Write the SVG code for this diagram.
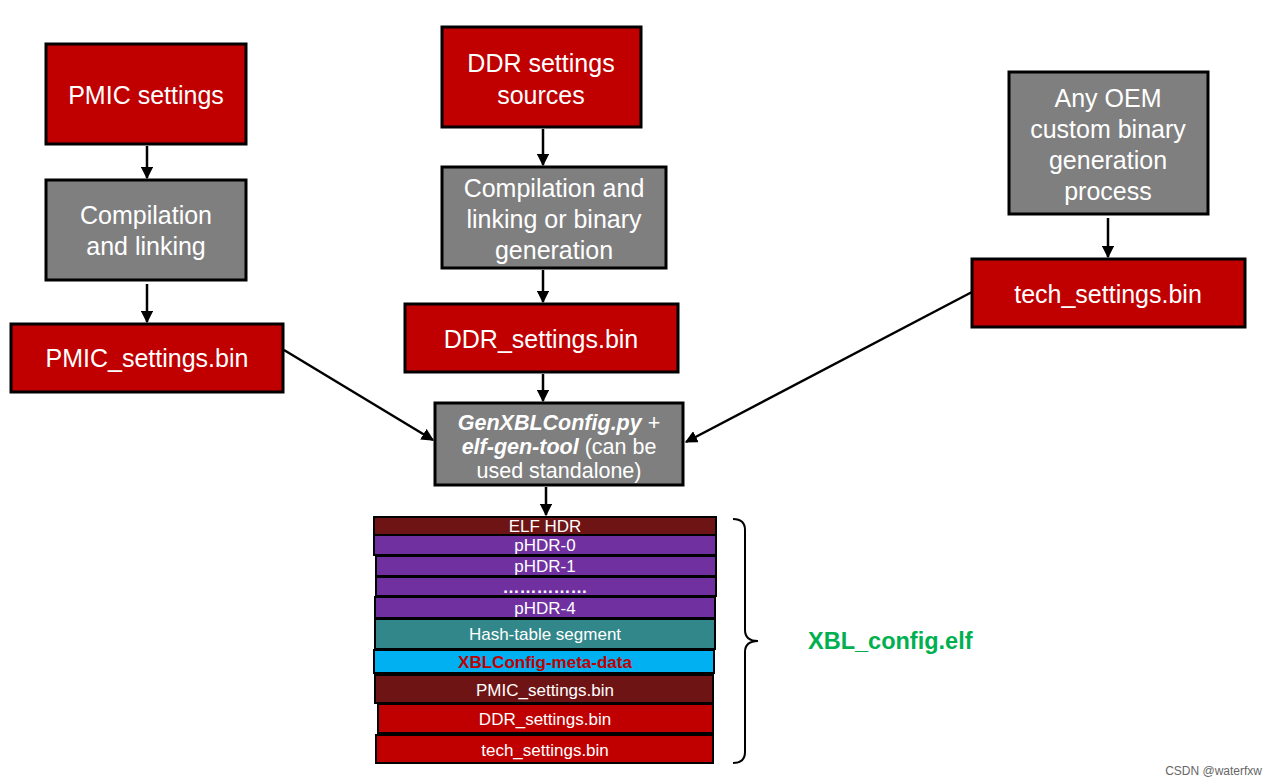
<svg xmlns="http://www.w3.org/2000/svg" width="1268" height="784" viewBox="0 0 1268 784">
<defs>
<marker id="ah" viewBox="0 0 10 10" refX="9" refY="5" markerWidth="5" markerHeight="5" orient="auto"><path d="M0,0L10,5L0,10z" fill="#000"/></marker>
<style>
.r{fill:#c00000;stroke:#000;stroke-width:3}
.g{fill:#7f7f7f;stroke:#000;stroke-width:3}
.t{font-family:"Liberation Sans",Arial,sans-serif;fill:#fff;text-anchor:middle;font-size:25px}
.s{font-family:"Liberation Sans",Arial,sans-serif;fill:#fff;text-anchor:middle;font-size:17px}
.row{stroke:#000;stroke-width:2}
.c{stroke:#000;stroke-width:2.5;fill:none;marker-end:url(#ah)}
</style>
</defs>
<rect width="1268" height="784" fill="#fff"/>
<g id="pmic"><rect class="r" x="46" y="44" width="200" height="100"/><text class="t" x="146" y="104">PMIC settings</text></g>
<g id="comp1"><rect class="g" x="46" y="180" width="200" height="100"/><text class="t" x="146" y="224">Compilation</text><text class="t" x="146" y="255">and linking</text></g>
<g id="pmicbin"><rect class="r" x="11" y="324" width="272" height="68"/><text class="t" x="147" y="367">PMIC_settings.bin</text></g>
<g id="ddr"><rect class="r" x="442" y="27" width="199" height="100"/><text class="t" x="541" y="72">DDR settings</text><text class="t" x="541" y="104">sources</text></g>
<g id="comp2"><rect class="g" x="442" y="167" width="224" height="101"/><text class="t" x="554" y="197">Compilation and</text><text class="t" x="554" y="228">linking or binary</text><text class="t" x="554" y="259">generation</text></g>
<g id="ddrbin"><rect class="r" x="405" y="304" width="273" height="68"/><text class="t" x="541" y="348">DDR_settings.bin</text></g>
<g id="oem"><rect class="g" x="1009" y="72" width="199" height="142"/><text class="t" x="1108" y="107">Any OEM</text><text class="t" x="1108" y="138">custom binary</text><text class="t" x="1108" y="169">generation</text><text class="t" x="1108" y="200">process</text></g>
<g id="techbin"><rect class="r" x="972" y="259" width="273" height="68"/><text class="t" x="1108" y="303">tech_settings.bin</text></g>
<g id="gen"><rect class="g" x="435" y="403" width="248" height="82"/>
<text class="t" x="559" y="430" style="font-size:21.5px"><tspan font-weight="bold" font-style="italic">GenXBLConfig.py</tspan> +</text>
<text class="t" x="559" y="454" style="font-size:21.5px"><tspan font-weight="bold" font-style="italic">elf-gen-tool</tspan> (can be</text>
<text class="t" x="559" y="478" style="font-size:21.5px">used standalone)</text></g>
<g id="stack">
<rect class="row" x="374" y="517" width="342" height="18" fill="#6f1414"/><text class="s" x="545" y="532">ELF HDR</text>
<rect class="row" x="374" y="535" width="342" height="20" fill="#7030a0"/><text class="s" x="545" y="551">pHDR-0</text>
<rect class="row" x="376" y="556" width="340" height="20" fill="#7030a0"/><text class="s" x="545" y="572">pHDR-1</text>
<rect class="row" x="376" y="577" width="340" height="19" fill="#7030a0"/><text class="s" x="545" y="593" style="font-weight:bold">……………</text>
<rect class="row" x="375" y="597" width="340" height="21" fill="#7030a0"/><text class="s" x="545" y="614">pHDR-4</text>
<rect class="row" x="375" y="619" width="340" height="30" fill="#31878a"/><text class="s" x="545" y="640">Hash-table segment</text>
<rect class="row" x="374" y="650" width="340" height="23" fill="#00b0f0"/><text class="s" x="545" y="668" style="fill:#c00000;font-weight:bold">XBLConfig-meta-data</text>
<rect class="row" x="375" y="675" width="338" height="28" fill="#6f1414" stroke-width="3"/><text class="s" x="545" y="696">PMIC_settings.bin</text>
<rect class="row" x="378" y="704" width="335" height="29" fill="#c00000" stroke-width="3"/><text class="s" x="545" y="725">DDR_settings.bin</text>
<rect class="row" x="376" y="735" width="337" height="28" fill="#c00000" stroke-width="3"/><text class="s" x="545" y="756">tech_settings.bin</text>
</g>
<g id="brace"><path d="M733,519 Q745,519 745,530 L745,630 Q745,641 758,641 Q745,641 745,652 L745,752 Q745,763 733,763" fill="none" stroke="#000" stroke-width="2"/>
<text x="808" y="649" style="font-family:'Liberation Sans',Arial,sans-serif;font-size:23.5px;font-weight:bold;fill:#00b050">XBL_config.elf</text></g>
<g id="connectors">
<line class="c" x1="147" y1="146" x2="147" y2="178"/>
<line class="c" x1="147" y1="284" x2="147" y2="322"/>
<line class="c" x1="543" y1="129" x2="543" y2="165"/>
<line class="c" x1="543" y1="270" x2="543" y2="302"/>
<line class="c" x1="1108" y1="218" x2="1108" y2="257"/>
<line class="c" x1="543" y1="374" x2="543" y2="401"/>
<line class="c" x1="546" y1="487" x2="546" y2="515"/>
<line class="c" x1="284" y1="350" x2="433" y2="440"/>
<line class="c" x1="972" y1="292" x2="686" y2="442"/>
</g>
<text x="1262" y="775" style="font-family:'Liberation Sans',Arial,sans-serif;font-size:12px;fill:#666;text-anchor:end">CSDN @waterfxw</text>
</svg>
